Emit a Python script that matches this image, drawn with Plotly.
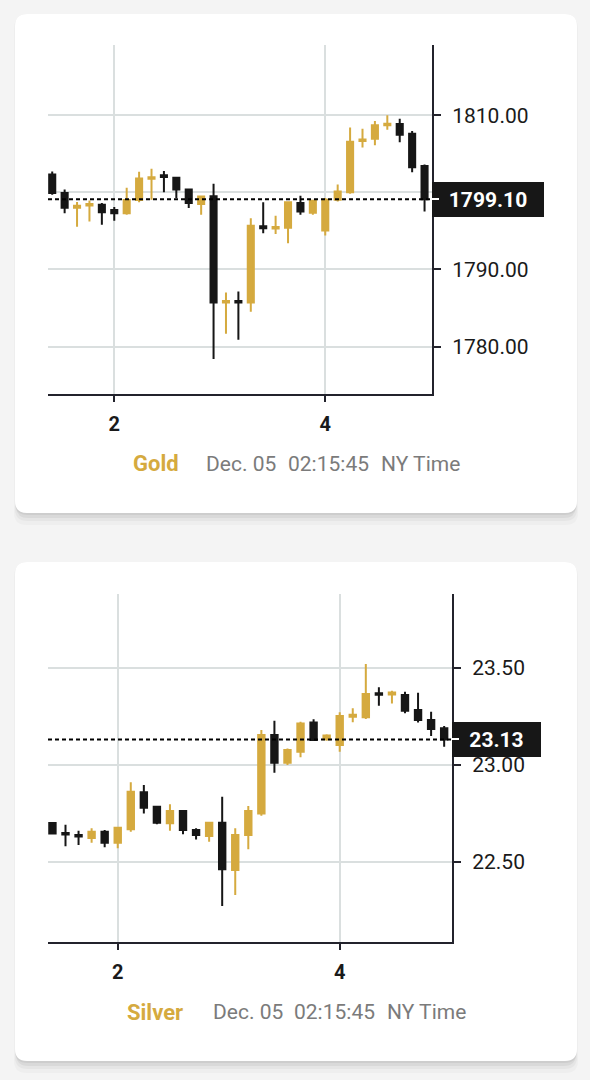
import plotly.graph_objects as go

# ---------------- data ----------------
candle_idx = list(range(31))
x_tick_vals = [5, 22]
x_tick_text = ["2", "4"]

gold_open = [1802.3, 1799.9, 1798.0, 1798.3, 1798.4, 1797.7, 1797.3, 1799.0, 1801.75, 1802.2,
             1801.9, 1800.35, 1798.5, 1799.5, 1785.7, 1785.9, 1785.7, 1795.6, 1795.3, 1795.4,
             1798.6, 1797.35, 1795.05, 1799.05, 1800.0, 1806.65, 1806.95, 1808.7, 1808.85, 1807.6,
             1803.4]
gold_high = [1802.7, 1800.35, 1798.75, 1798.95, 1798.6, 1798.1, 1800.6, 1802.65, 1803.05, 1802.75,
             1801.95, 1800.45, 1799.5, 1801.1, 1787.0, 1787.15, 1796.65, 1798.7, 1796.95, 1798.75,
             1799.55, 1799.0, 1799.25, 1801.0, 1808.4, 1808.25, 1809.25, 1810.0, 1809.55, 1807.95,
             1803.6]
gold_low = [1799.7, 1797.3, 1795.55, 1796.2, 1795.8, 1796.3, 1797.1, 1798.7, 1799.05, 1800.0,
            1799.25, 1797.95, 1797.1, 1778.4, 1781.65, 1780.9, 1784.5, 1794.7, 1794.6, 1793.4,
            1797.1, 1797.1, 1794.4, 1798.8, 1799.8, 1805.8, 1806.1, 1808.1, 1806.5, 1802.6,
            1797.5]
gold_close = [1799.9, 1798.0, 1798.25, 1798.5, 1797.4, 1797.3, 1799.0, 1801.8, 1801.95, 1802.0,
              1800.35, 1798.6, 1799.45, 1785.7, 1785.9, 1785.7, 1795.65, 1795.35, 1795.5, 1798.7,
              1797.5, 1798.9, 1799.05, 1800.1, 1806.55, 1806.85, 1808.7, 1808.9, 1807.45, 1803.25,
              1799.10]
gold_y_ticks = [1780, 1790, 1800, 1810]

silver_open = [22.700, 22.648, 22.638, 22.622, 22.655, 22.598, 22.667, 22.858, 22.783, 22.698,
               22.761, 22.663, 22.632, 22.701, 22.457, 22.638, 22.749, 23.153, 23.010, 23.067,
               23.217, 23.131, 23.102, 23.247, 23.244, 23.368, 23.362, 23.359, 23.282, 23.230,
               23.188]
silver_high = [22.705, 22.690, 22.660, 22.672, 22.663, 22.680, 22.909, 22.895, 22.787, 22.796,
               22.765, 22.672, 22.706, 22.835, 22.672, 22.787, 23.179, 23.227, 23.084, 23.222,
               23.234, 23.157, 23.270, 23.291, 23.519, 23.399, 23.381, 23.376, 23.371, 23.273,
               23.199]
silver_low = [22.640, 22.580, 22.586, 22.598, 22.574, 22.569, 22.655, 22.749, 22.693, 22.660,
              22.641, 22.615, 22.603, 22.272, 22.328, 22.564, 22.737, 22.959, 22.998, 23.038,
              23.124, 23.124, 23.067, 23.219, 23.236, 23.304, 23.316, 23.265, 23.217, 23.148,
              23.093]
silver_close = [22.645, 22.640, 22.630, 22.655, 22.598, 22.675, 22.861, 22.778, 22.701, 22.761,
                22.663, 22.638, 22.701, 22.461, 22.638, 22.761, 23.153, 23.010, 23.076, 23.213,
                23.127, 23.150, 23.251, 23.258, 23.364, 23.360, 23.372, 23.278, 23.230, 23.184,
                23.13]
silver_y_ticks = [22.5, 23.0, 23.5]

footer_date = "Dec. 05"
footer_time = "02:15:45"
footer_zone = "NY Time"

# ---------------- style ----------------
W, H = 590, 1080
GOLD = "#d5aa3f"
BLACK = "#161616"
AXIS = "#23232c"
GRID = "#dadfdf"
TEXT = "#1a1a1a"
GREY = "#7b7b7b"
FONT = "Roboto"
BG = "#f4f4f4"


def px(v):
    return v / W


def py(v):
    return 1 - v / H


def rrect(x0, y0, x1, y1, r):
    X = lambda v: f"{v / W:.6f}"
    Y = lambda v: f"{1 - v / H:.6f}"
    return (f"M {X(x0 + r)},{Y(y0)} L {X(x1 - r)},{Y(y0)} Q {X(x1)},{Y(y0)} {X(x1)},{Y(y0 + r)} "
            f"L {X(x1)},{Y(y1 - r)} Q {X(x1)},{Y(y1)} {X(x1 - r)},{Y(y1)} "
            f"L {X(x0 + r)},{Y(y1)} Q {X(x0)},{Y(y1)} {X(x0)},{Y(y1 - r)} "
            f"L {X(x0)},{Y(y0 + r)} Q {X(x0)},{Y(y0)} {X(x0 + r)},{Y(y0)} Z")


panels = [
    dict(name="Gold", o=gold_open, h=gold_high, l=gold_low, c=gold_close, ticks=gold_y_ticks,
         xdom=(48, 432), ydom=(45, 394), yrange=(1773.85, 1819.1), card=(15, 14, 577, 513),
         footer_y=464, footer_x=(131, 204, 286, 379), box_w=112),
    dict(name="Silver", o=silver_open, h=silver_high, l=silver_low, c=silver_close, ticks=silver_y_ticks,
         xdom=(48, 452), ydom=(594, 942), yrange=(22.086, 23.88), card=(15, 562, 577, 1061),
         footer_y=1012, footer_x=(125, 211, 292, 385), box_w=89),
]

fig = go.Figure()
shapes = []
annotations = []
layout_axes = {}

for i, p in enumerate(panels):
    n = "" if i == 0 else str(i + 1)
    xa, ya = "x" + n, "y" + n
    last = p["c"][-1]
    step = p["ticks"][1] - p["ticks"][0]
    # a tick label that sits fully under the last-price box is hidden (as in the reference)
    tick_text = ["" if abs(t - last) < 0.25 * step else f"{t:.2f}" for t in p["ticks"]]

    fig.add_trace(go.Candlestick(
        x=candle_idx, open=p["o"], high=p["h"], low=p["l"], close=p["c"],
        xaxis=xa, yaxis=ya, showlegend=False, hoverinfo="skip", whiskerwidth=0,
        increasing=dict(line=dict(color=GOLD, width=2), fillcolor=GOLD),
        decreasing=dict(line=dict(color=BLACK, width=2), fillcolor=BLACK),
    ))
    layout_axes["xaxis" + n] = dict(
        domain=[px(p["xdom"][0]), px(p["xdom"][1])], range=[-0.34, 30.6], anchor=ya,
        tickvals=x_tick_vals, ticktext=x_tick_text, showgrid=True, gridcolor=GRID, gridwidth=2,
        showline=True, linecolor=AXIS, linewidth=2, ticks="outside", ticklen=6, tickwidth=2,
        tickcolor=AXIS, zeroline=False, fixedrange=True, rangeslider=dict(visible=False),
        tickfont=dict(family=FONT, size=20, color=TEXT, weight=700), ticklabelstandoff=5,
    )
    layout_axes["yaxis" + n] = dict(
        domain=[py(p["ydom"][1]), py(p["ydom"][0])], range=list(p["yrange"]), anchor=xa, side="right",
        tickvals=p["ticks"], ticktext=tick_text, showgrid=True, gridcolor=GRID, gridwidth=2,
        showline=True, linecolor=AXIS, linewidth=2, ticks="outside", ticklen=7, tickwidth=2,
        tickcolor=AXIS, zeroline=False, fixedrange=True,
        tickfont=dict(family=FONT, size=21, color=TEXT), ticklabelstandoff=7,
    )

    # card with shadow
    cx0, cy0, cx1, cy1 = p["card"]
    for (dx, dy0, dy1, a) in [(-1, 2, 12, 0.025), (0, 2, 8, 0.035), (1, 1, 5, 0.05), (0, 0, 2, 0.05)]:
        shapes.append(dict(type="path", xref="paper", yref="paper", layer="below",
                           path=rrect(cx0 + dx, cy0 + dy0, cx1 - dx, cy1 + dy1, 12),
                           fillcolor=f"rgba(0,0,0,{a})", line=dict(width=0)))
    shapes.append(dict(type="path", xref="paper", yref="paper", layer="below",
                       path=rrect(cx0, cy0, cx1, cy1, 12), fillcolor="#ffffff", line=dict(width=0)))

    # last price dashed line
    shapes.append(dict(type="line", xref=xa + " domain", yref=ya, x0=0, x1=1, y0=last, y1=last,
                       line=dict(color="#000000", width=2, dash="4px,3px"), layer="above"))
    # last price label
    annotations.append(dict(xref=xa + " domain", yref=ya, x=1, y=last, xanchor="left", yanchor="middle",
                            text=f"<b>{last:.2f}</b>", showarrow=False, bgcolor="#171717",
                            width=p["box_w"], height=35, borderpad=0, borderwidth=0, align="center",
                            font=dict(family=FONT, size=21, color="#ffffff")))
    annotations.append(dict(xref=xa + " domain", yref=ya, x=1, y=last, xanchor="left", yanchor="middle",
                            text=" ", showarrow=False, bgcolor="#ffffff", width=7, height=2,
                            borderpad=0, borderwidth=0, font=dict(size=1)))

    # footer
    fx = p["footer_x"]
    annotations.append(dict(xref="paper", yref="paper", x=px(fx[0]), y=py(p["footer_y"]),
                            xanchor="left", yanchor="middle", showarrow=False, text=p["name"],
                            font=dict(family=FONT, size=22, color=GOLD, weight=700)))
    for txt, xx in zip([footer_date, footer_time, footer_zone], fx[1:]):
        annotations.append(dict(xref="paper", yref="paper", x=px(xx), y=py(p["footer_y"]),
                                xanchor="left", yanchor="middle", showarrow=False, text=txt,
                                font=dict(family=FONT, size=21, color=GREY)))

fig.update_layout(
    width=W, height=H, autosize=False, margin=dict(l=0, r=0, t=0, b=0),
    paper_bgcolor=BG, plot_bgcolor="rgba(0,0,0,0)", font=dict(family=FONT),
    shapes=shapes, annotations=annotations, showlegend=False, hovermode=False,
    **layout_axes,
)

fig.write_html("out.html", config={"displayModeBar": False, "staticPlot": True},
               post_script="document.body.style.margin='0';")
